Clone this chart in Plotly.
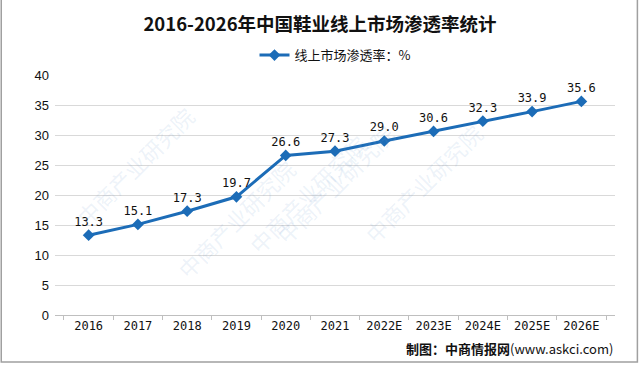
import plotly.graph_objects as go

years = ["2016", "2017", "2018", "2019", "2020", "2021", "2022E", "2023E", "2024E", "2025E", "2026E"]
penetration = [13.3, 15.1, 17.3, 19.7, 26.6, 27.3, 29.0, 30.6, 32.3, 33.9, 35.6]
y_ticks = [0, 5, 10, 15, 20, 25, 30, 35, 40]

blue = "#1c6cb7"
font_cn = "Noto Sans CJK SC"

fig = go.Figure()
fig.add_trace(go.Scatter(
    x=years, y=penetration, mode="lines+markers+text",
    name="线上市场渗透率：%",
    line=dict(color=blue, width=3),
    marker=dict(symbol="diamond", size=9, color=blue),
    text=[f"{v:.1f}" for v in penetration],
    textposition="top center",
    textfont=dict(family="DejaVu Sans Mono, monospace", size=12, color="#111111"),
    cliponaxis=False,
))

wm = [(0.50, 0.83), (0.78, 0.55), (0.45, 0.22), (0.02, 0.62), (0.20, 0.40)]
for (xx, yy) in wm:
    fig.add_annotation(x=xx, y=yy, xref="paper", yref="paper", text="中商产业研究院",
                       showarrow=False, textangle=-45,
                       font=dict(family=font_cn, size=22, color="rgba(120,160,210,0.14)"))

fig.add_annotation(x=1.0, y=-0.1375, xref="paper", yref="paper", xanchor="right", yanchor="middle",
                   text="<b>制图：中商情报网</b>(www.askci.com)", showarrow=False,
                   font=dict(family=font_cn, size=13, color="#111111"))

fig.update_layout(
    width=640, height=367,
    paper_bgcolor="white", plot_bgcolor="white",
    margin=dict(l=55, r=25, t=75, b=52, autoexpand=False),
    title=dict(text="<b>2016-2026年中国鞋业线上市场渗透率统计</b>", x=0.5, xanchor="center", y=0.932, yanchor="middle",
               font=dict(family=font_cn, size=18.5, color="#111111")),
    legend=dict(orientation="h", x=0.5, xanchor="center", y=1.083, yanchor="middle",
                font=dict(family=font_cn, size=13, color="#111111"), bgcolor="rgba(0,0,0,0)"),
    showlegend=True,
    xaxis=dict(type="category", showgrid=False, showline=True, linecolor="#bfbfbf", linewidth=1,
               ticks="outside", tickcolor="#bfbfbf", ticklen=4, tickson="boundaries",
               tickfont=dict(family="DejaVu Sans Mono, monospace", size=12, color="#111111")),
    yaxis=dict(range=[0, 40], tickvals=y_ticks, showgrid=True, gridcolor="#d9d9d9", gridwidth=1,
               zeroline=False, showline=False, ticklen=0, ticklabelstandoff=5,
               tickfont=dict(family="Liberation Sans, Arial", size=13, color="#111111")),
    shapes=[dict(type="rect", xref="paper", yref="paper", x0=-0.096, x1=1.04, y0=-0.196, y1=1.32,
                 line=dict(color="#a0a0a0", width=1.5), layer="below")],
)

fig.write_html("out.html", config={"displayModeBar": False},
               post_script="document.body.style.margin='0';document.body.style.overflow='hidden';")
